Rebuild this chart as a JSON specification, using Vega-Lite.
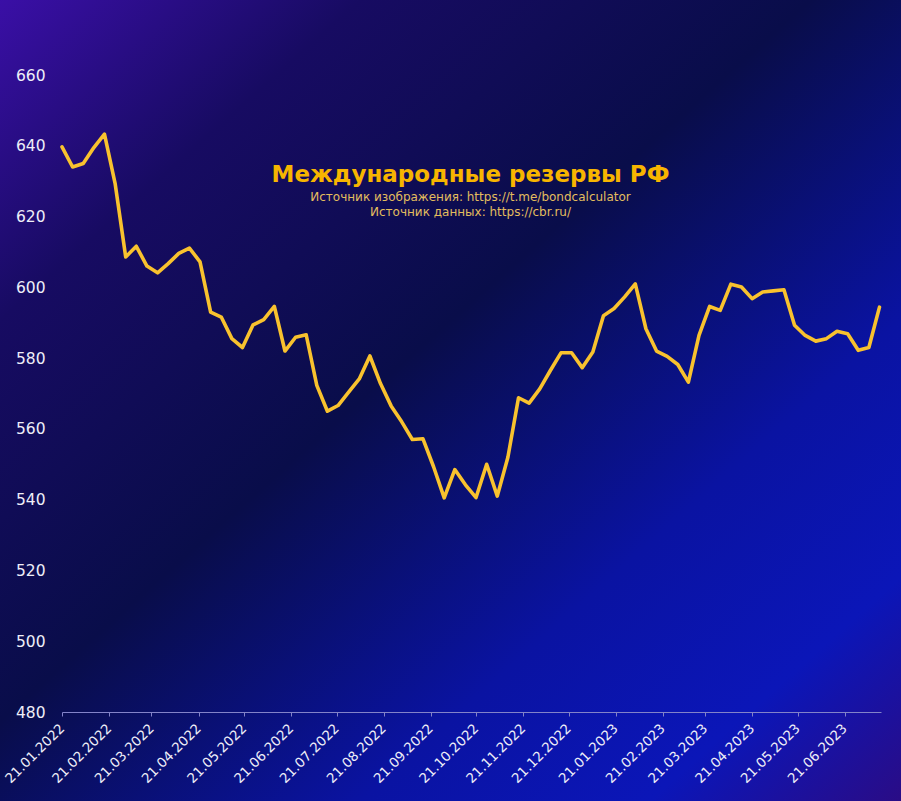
{
  "$schema": "https://vega.github.io/schema/vega-lite/v6.json",
  "width": 901,
  "height": 801,
  "autosize": {"type": "none"},
  "padding": 0,
  "background": "#0b0c55",
  "config": {
    "view": {
      "stroke": null,
      "fill": {
        "gradient": "linear",
        "x1": 0, "y1": 0, "x2": 1, "y2": 1,
        "stops": [
          {"offset": 0, "color": "#3a0fa6"},
          {"offset": 0.2, "color": "#170b62"},
          {"offset": 0.45, "color": "#090d4a"},
          {"offset": 0.7, "color": "#0a13a2"},
          {"offset": 0.86, "color": "#0b16b8"},
          {"offset": 1, "color": "#2a0c86"}
        ]
      }
    }
  },
  "title": {
    "text": "Международные резервы РФ",
    "subtitle": ["Источник изображения: https://t.me/bondcalculator", "Источник данных: https://cbr.ru/"],
    "anchor": "middle",
    "frame": "group",
    "orient": "top",
    "offset": -218,
    "dx": 20,
    "font": "DejaVu Sans",
    "fontSize": 23,
    "fontWeight": "bold",
    "color": "#f7b500",
    "subtitleFont": "DejaVu Sans",
    "subtitleFontSize": 12,
    "subtitleColor": "#e3bd5e",
    "subtitlePadding": 5,
    "subtitleLineHeight": 15
  },
  "data": {
    "values": [
      {"date": "2022-01-21", "value": 639.7},
      {"date": "2022-01-28", "value": 634.0},
      {"date": "2022-02-04", "value": 635.0},
      {"date": "2022-02-11", "value": 639.5},
      {"date": "2022-02-18", "value": 643.3},
      {"date": "2022-02-25", "value": 629.4},
      {"date": "2022-03-04", "value": 608.6},
      {"date": "2022-03-11", "value": 611.6},
      {"date": "2022-03-18", "value": 606.0},
      {"date": "2022-03-25", "value": 604.1},
      {"date": "2022-04-01", "value": 606.7},
      {"date": "2022-04-08", "value": 609.6},
      {"date": "2022-04-15", "value": 611.1},
      {"date": "2022-04-22", "value": 607.2},
      {"date": "2022-04-29", "value": 593.0},
      {"date": "2022-05-06", "value": 591.6},
      {"date": "2022-05-13", "value": 585.5},
      {"date": "2022-05-20", "value": 583.0},
      {"date": "2022-05-27", "value": 589.4},
      {"date": "2022-06-03", "value": 590.9},
      {"date": "2022-06-10", "value": 594.6},
      {"date": "2022-06-17", "value": 582.0},
      {"date": "2022-06-24", "value": 585.9},
      {"date": "2022-07-01", "value": 586.6},
      {"date": "2022-07-08", "value": 572.3},
      {"date": "2022-07-15", "value": 565.0},
      {"date": "2022-07-22", "value": 566.6},
      {"date": "2022-07-29", "value": 570.4},
      {"date": "2022-08-05", "value": 574.1},
      {"date": "2022-08-12", "value": 580.6},
      {"date": "2022-08-19", "value": 572.8},
      {"date": "2022-08-26", "value": 566.5},
      {"date": "2022-09-02", "value": 562.0},
      {"date": "2022-09-09", "value": 557.0},
      {"date": "2022-09-16", "value": 557.2},
      {"date": "2022-09-23", "value": 549.3},
      {"date": "2022-09-30", "value": 540.5},
      {"date": "2022-10-07", "value": 548.5},
      {"date": "2022-10-14", "value": 544.2},
      {"date": "2022-10-21", "value": 540.6},
      {"date": "2022-10-28", "value": 550.0},
      {"date": "2022-11-04", "value": 541.0},
      {"date": "2022-11-11", "value": 552.0},
      {"date": "2022-11-18", "value": 568.8},
      {"date": "2022-11-25", "value": 567.3},
      {"date": "2022-12-02", "value": 571.3},
      {"date": "2022-12-09", "value": 576.5},
      {"date": "2022-12-16", "value": 581.5},
      {"date": "2022-12-23", "value": 581.5},
      {"date": "2022-12-30", "value": 577.3},
      {"date": "2023-01-06", "value": 581.7},
      {"date": "2023-01-13", "value": 592.0},
      {"date": "2023-01-20", "value": 594.0},
      {"date": "2023-01-27", "value": 597.3},
      {"date": "2023-02-03", "value": 601.0},
      {"date": "2023-02-10", "value": 588.3},
      {"date": "2023-02-17", "value": 582.0},
      {"date": "2023-02-24", "value": 580.5},
      {"date": "2023-03-03", "value": 578.2},
      {"date": "2023-03-10", "value": 573.2},
      {"date": "2023-03-17", "value": 586.4},
      {"date": "2023-03-24", "value": 594.6},
      {"date": "2023-03-31", "value": 593.5},
      {"date": "2023-04-07", "value": 600.9},
      {"date": "2023-04-14", "value": 600.1},
      {"date": "2023-04-21", "value": 596.8},
      {"date": "2023-04-28", "value": 598.7},
      {"date": "2023-05-05", "value": 599.0},
      {"date": "2023-05-12", "value": 599.3},
      {"date": "2023-05-19", "value": 589.3},
      {"date": "2023-05-26", "value": 586.4},
      {"date": "2023-06-02", "value": 584.8},
      {"date": "2023-06-09", "value": 585.5},
      {"date": "2023-06-16", "value": 587.6},
      {"date": "2023-06-23", "value": 586.9},
      {"date": "2023-06-30", "value": 582.2},
      {"date": "2023-07-07", "value": 583.0},
      {"date": "2023-07-14", "value": 594.4}
    ]
  },
  "mark": {"type": "line", "color": "#f9c22e", "strokeWidth": 3.6, "strokeJoin": "round", "strokeCap": "round"},
  "encoding": {
    "x": {
      "field": "date",
      "type": "temporal",
      "timeUnit": "utcyearmonthdate",
      "title": null,
      "scale": {
        "domain": [
          {"year": 2022, "month": 1, "date": 21, "utc": true},
          {"year": 2023, "month": 7, "date": 15, "utc": true}
        ],
        "range": [62, 881]
      },
      "axis": {
        "orient": "bottom",
        "offset": -89,
        "values": [
          {"year": 2022, "month": 1, "date": 21, "utc": true},
          {"year": 2022, "month": 2, "date": 21, "utc": true},
          {"year": 2022, "month": 3, "date": 21, "utc": true},
          {"year": 2022, "month": 4, "date": 21, "utc": true},
          {"year": 2022, "month": 5, "date": 21, "utc": true},
          {"year": 2022, "month": 6, "date": 21, "utc": true},
          {"year": 2022, "month": 7, "date": 21, "utc": true},
          {"year": 2022, "month": 8, "date": 21, "utc": true},
          {"year": 2022, "month": 9, "date": 21, "utc": true},
          {"year": 2022, "month": 10, "date": 21, "utc": true},
          {"year": 2022, "month": 11, "date": 21, "utc": true},
          {"year": 2022, "month": 12, "date": 21, "utc": true},
          {"year": 2023, "month": 1, "date": 21, "utc": true},
          {"year": 2023, "month": 2, "date": 21, "utc": true},
          {"year": 2023, "month": 3, "date": 21, "utc": true},
          {"year": 2023, "month": 4, "date": 21, "utc": true},
          {"year": 2023, "month": 5, "date": 21, "utc": true},
          {"year": 2023, "month": 6, "date": 21, "utc": true}
        ],
        "format": "%d.%m.%Y",
        "grid": false,
        "domain": true,
        "domainColor": "#8383c9",
        "domainWidth": 1,
        "ticks": true,
        "tickColor": "#8383c9",
        "tickSize": 4,
        "labelAngle": -45,
        "labelAlign": "right",
        "labelBaseline": "middle",
        "labelPadding": 10,
        "labelFont": "DejaVu Sans",
        "labelFontSize": 13.5,
        "labelColor": "#eeeef8",
        "labelOverlap": false,
        "labelFlush": false
      }
    },
    "y": {
      "field": "value",
      "type": "quantitative",
      "title": null,
      "scale": {"domain": [480, 660], "range": [712, 75], "nice": false, "zero": false},
      "axis": {
        "orient": "left",
        "offset": -62,
        "values": [480, 500, 520, 540, 560, 580, 600, 620, 640, 660],
        "grid": false,
        "domain": false,
        "ticks": false,
        "labelPadding": 17,
        "labelFont": "DejaVu Sans",
        "labelFontSize": 15.5,
        "labelColor": "#eeeef8"
      }
    }
  }
}
